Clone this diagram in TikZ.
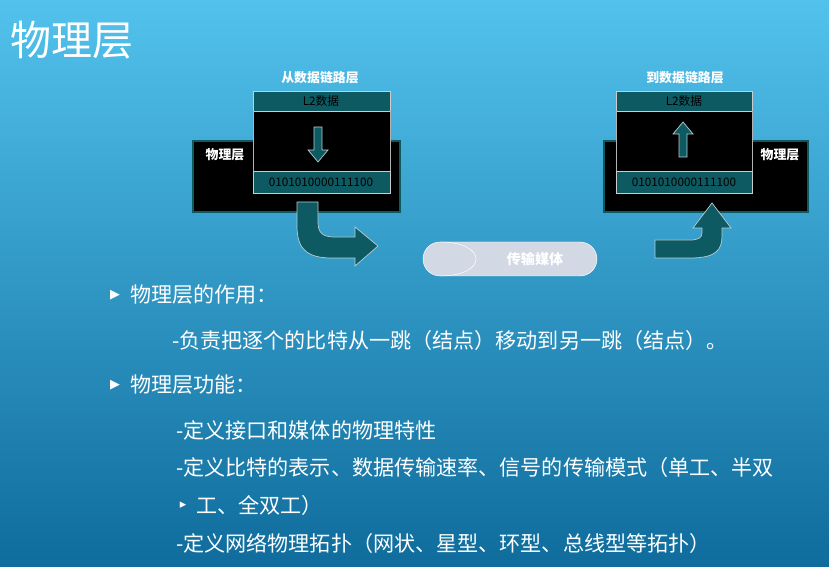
\documentclass[tikz,border=0pt]{standalone}
\usepackage{fontspec}
\setmainfont{Noto Sans CJK SC}
\newfontfamily\symfont{DejaVu Sans}
\usetikzlibrary{positioning}
\definecolor{skytop}{HTML}{52C2EC}
\definecolor{skybot}{HTML}{0F6C9C}
\definecolor{tealband}{HTML}{0E5A62}
\definecolor{pillgrey}{HTML}{D3D9E4}
\begin{document}
\begin{tikzpicture}[x=0.03cm, y=-0.03cm,
    band/.style = {draw=white!80!black, fill = tealband, line width=0.5pt},
    blackbox/.style = {draw=tealband, fill = black, line width=1pt},
    small/.style = {font=\fontsize{10}{11}\selectfont},
    label/.style = {text = white, font=\bfseries\fontsize{11}{12}\selectfont},
    body/.style = {text = white, anchor = west, font=\fontsize{18}{20}\selectfont},
    bullet/.style = {text = white, font=\symfont\fontsize{11}{12}\selectfont},
    bigarrow/.style = {fill = tealband, draw = white!70!tealband, line width=0.6pt}]
        \shade [top color = skytop, bottom color = skybot] (0,0) rectangle (829,567);
        \node [text = white, anchor = west, font=\fontsize{35}{38}\selectfont] (title) at (6,40) {物理层};

        % left stack
        \node [label] (fromdl) at (320,78) {从数据链路层};
        \draw [blackbox] (193,141) rectangle (400,212);
        \node [label] (phyL) at (225,155) {物理层};
        \fill [black] (253,111) rectangle (390,171);
        \draw [band] (253,91) rectangle (390,111);
        \draw [band] (253,171) rectangle (390,193);
        \draw [white!70!black, line width=0.3pt] (253,111) -- (253,171) (390,111) -- (390,171);
        \node [small] (l2L) at (321,101) {L2数据};
        \node [small] (bitsL) at (321,182) {0101010000111100};
        \draw [bigarrow] (314,127) -- (322,127) -- (322,150) -- (328,150) -- (318,162) -- (308,150) -- (314,150) -- cycle;

        % right stack
        \node [label] (todl) at (685,78) {到数据链路层};
        \draw [blackbox] (604,141) rectangle (808,212);
        \node [label] (phyR) at (780,155) {物理层};
        \fill [black] (616,111) rectangle (752,171);
        \draw [band] (616,91) rectangle (752,111);
        \draw [band] (616,171) rectangle (752,193);
        \draw [white!70!black, line width=0.3pt] (616,111) -- (616,171) (752,111) -- (752,171);
        \node [small] (l2R) at (684,101) {L2数据};
        \node [small] (bitsR) at (684,182) {0101010000111100};
        \draw [bigarrow] (679,157) -- (687,157) -- (687,134) -- (693,134) -- (683,122) -- (673,134) -- (679,134) -- cycle;

        % curved arrows
        \draw [bigarrow] (297,202) -- (297,226) .. controls (297,250) and (308,258) .. (332,258) -- (355,258) -- (355,266) -- (378,246) -- (355,227) -- (355,237) -- (334,237) .. controls (322,237) and (318,232) .. (318,222) -- (318,202) -- cycle;
        \draw [bigarrow] (655,258) -- (690,258) .. controls (716,258) and (722,250) .. (722,236) -- (722,228) -- (731,228) -- (712,203) -- (693,228) -- (702,228) -- (702,233) .. controls (702,238) and (698,240) .. (690,240) -- (655,240) -- cycle;

        % medium
        \draw [fill = pillgrey, draw = white, rounded corners=0.51cm] (423,242) rectangle (597,276);
        \draw [white] (440,242) .. controls (488,242) and (488,276) .. (440,276);
        \node [label, font=\bfseries\fontsize{12}{13}\selectfont] (medium) at (535,259) {传输媒体};

        % text
        \node [bullet] (b1) at (115,295) {▶};
        \node [body] (t1) at (126,295) {物理层的作用：};
        \node [body] (t2) at (168,340) {-负责把逐个的比特从一跳（结点）移动到另一跳（结点）。};
        \node [bullet] (b2) at (115,385) {▶};
        \node [body] (t3) at (126,385) {物理层功能：};
        \node [body] (t4) at (172,430) {-定义接口和媒体的物理特性};
        \node [body] (t5) at (172,467) {-定义比特的表示、数据传输速率、信号的传输模式（单工、半双};
        \node [bullet] (b3) at (183,505) {▸};
        \node [body] (t6) at (192,505) {工、全双工）};
        \node [body] (t7) at (172,543) {-定义网络物理拓扑（网状、星型、环型、总线型等拓扑）};
\end{tikzpicture}
\end{document}
